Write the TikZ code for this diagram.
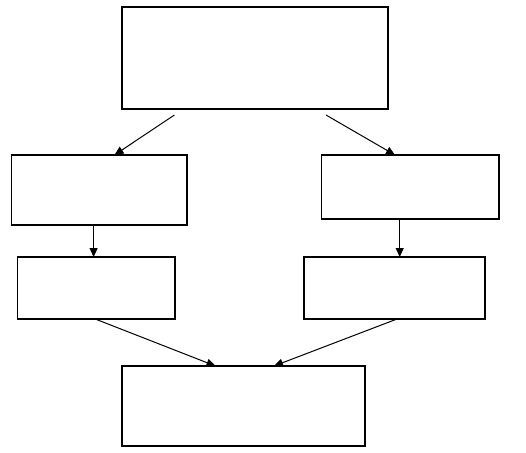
\documentclass[tikz,border=0pt]{standalone}
\usetikzlibrary{arrows.meta}
\begin{document}
\begin{tikzpicture}[x=1pt,y=-1pt,
  box/.style={draw=black,line width=1.2pt,fill=white,inner sep=0pt,outer sep=0pt},
  arr/.style={draw=black,line width=1pt,-{Triangle[length=9pt,width=8pt]}}]
\useasboundingbox (0,0) rectangle (526,452);
\fill[white] (0,0) rectangle (526,452);
\node[box,minimum width=266pt,minimum height=102pt] (top) at (255,58) {};
\node[box,minimum width=175.5pt,minimum height=70pt] (l1) at (99.25,190) {};
\node[box,minimum width=177.5pt,minimum height=64pt] (r1) at (410.25,187) {};
\node[box,minimum width=157.5pt,minimum height=62pt] (l2) at (96.25,288) {};
\node[box,minimum width=181pt,minimum height=62pt] (r2) at (394.5,288) {};
\node[box,minimum width=243pt,minimum height=80pt] (bot) at (243.5,406) {};
\coordinate (s1) at (174.4,115);
\coordinate (s2) at (326,115);
\draw[arr] (s1) -- ([xshift=15.25pt]l1.north);
\draw[arr] (s2) -- ([xshift=-15.25pt]r1.north);
\draw[arr] ([xshift=-5.65pt]l1.south) -- ([xshift=-5.65pt]l1.south |- l2.north);
\draw[arr] ([xshift=-10.55pt]r1.south) -- ([xshift=-10.55pt]r1.south |- r2.north);
\draw[arr] ([xshift=-1pt]l2.south) -- ([xshift=-28pt]bot.north);
\draw[arr] ([xshift=2.5pt]r2.south) -- ([xshift=30.5pt]bot.north);
\end{tikzpicture}
\end{document}
